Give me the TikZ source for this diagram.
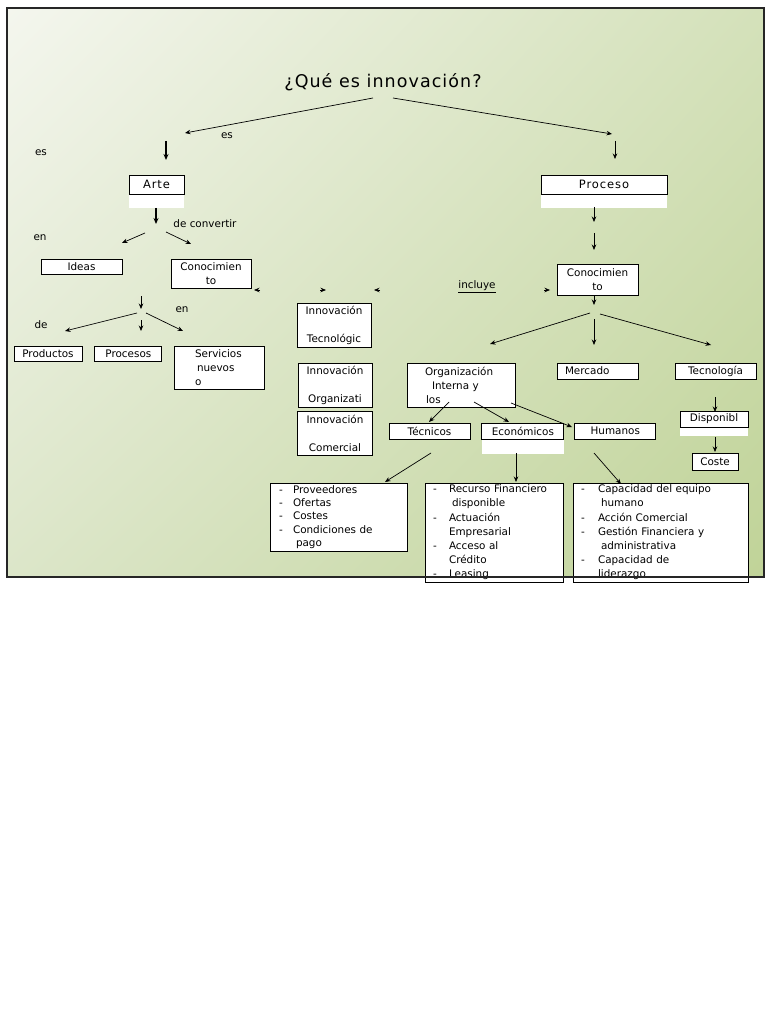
\documentclass[tikz,border=0pt]{standalone}
\usepackage{fontspec}
\setmainfont{DejaVu Sans}
\newfontfamily\spacedfont[LetterSpace=8]{DejaVu Sans}
\newfontfamily\titlefont[LetterSpace=6]{DejaVu Sans}
\usetikzlibrary{shapes,arrows.meta,positioning,calc,shadings}

\definecolor{bgTL}{RGB}{244,246,238}
\definecolor{bgTR}{RGB}{212,225,186}
\definecolor{bgBL}{RGB}{220,230,201}
\definecolor{bgBR}{RGB}{192,211,152}

\newcommand{\itm}[1]{\makebox[#1pt][l]{-}}
\newcommand{\cont}[1]{\hspace*{#1pt}}

\begin{document}
\begin{tikzpicture}[x=1pt, y=-1pt]

% Define styles
\tikzstyle{box} = [rectangle, draw=black, fill=white, line width=0.9pt, inner sep=0pt, align=center, font=\fontsize{10.4}{14}\selectfont]
\tikzstyle{whitepad} = [rectangle, fill=white, inner sep=0pt]
\tikzstyle{listbox} = [box, align=left]
\tikzstyle{linklabel} = [inner sep=0pt, font=\fontsize{10.4}{12}\selectfont]
\tikzstyle{arrow} = [-{Stealth[length=5.5pt, width=4.5pt]}, line width=0.7pt]
\tikzstyle{bold arrow} = [-{Stealth[length=6pt, width=5pt]}, line width=1.5pt]

% Page and background
\fill [white] (0,0) rectangle (768,1024);
\useasboundingbox (0,0) rectangle (768,1024);
\fill [upper left=bgTL, upper right=bgTR, lower left=bgBL, lower right=bgBR] (7,8) rectangle (764,577);

% Title
\node (title) [anchor=base, font=\fontsize{17.5}{20}\selectfont\titlefont] at (383,88) {¿Qué es innovación?};

% Arte branch
\node (arte) [box, minimum width=55pt, minimum height=19pt, font=\fontsize{11.5}{14}\selectfont\spacedfont] at (156.5,184.5) {Arte};
\node (artepad) [whitepad, below=0pt of arte, minimum width=55pt, minimum height=13pt] {};
\node (ideas) [box, minimum width=81pt, minimum height=15pt] at (81.5,266.5) {Ideas};
\node (conocA) [box, minimum width=80pt, minimum height=29pt] at (211,273.5) {Conocimien\\to};
\node (productos) [box, minimum width=68pt, minimum height=15pt] at (48,353.5) {Productos};
\node (procesos) [box, right=12pt of productos, minimum width=67pt, minimum height=15pt] {Procesos};
\node (servicios) [listbox, minimum width=90pt, minimum height=43pt, text width=48pt] at (219,367.5) {Servicios\\\cont{2}nuevos\\o};

% Innovation types
\node (innTec) [box, minimum width=74pt, minimum height=44pt] at (334,325) {Innovación\\[14pt]Tecnológic};
\node (innOrg) [box, minimum width=74pt, minimum height=44pt] at (335,385) {Innovación\\[14pt]Organizati};
\node (innCom) [box, below=4pt of innOrg, minimum width=75pt, minimum height=44pt] {Innovación\\[14pt]Comercial};

% Proceso branch
\node (proceso) [box, minimum width=126pt, minimum height=19pt, font=\fontsize{11.5}{14}\selectfont\spacedfont] at (604,184.5) {Proceso};
\node (procesopad) [whitepad, below=0pt of proceso, minimum width=126pt, minimum height=13pt] {};
\node (conocB) [box, minimum width=81pt, minimum height=31pt] at (597.5,279.5) {Conocimien\\to};
\node (organizacion) [listbox, minimum width=108pt, minimum height=44pt, text width=72pt] at (461,385) {Organización\\\cont{7}Interna y\\\cont{1}los};
\node (mercado) [listbox, minimum width=81pt, minimum height=16pt, text width=65pt] at (597.5,371) {Mercado};
\node (tecnologia) [box, minimum width=81pt, minimum height=16pt] at (715.5,371) {Tecnología};
\node (tecnicos) [box, minimum width=81pt, minimum height=16pt] at (429.5,431) {Técnicos};
\node (economicos) [box, right=11pt of tecnicos, minimum width=82pt, minimum height=16pt] {Económicos};
\node (economicospad) [whitepad, below=0pt of economicos, minimum width=82pt, minimum height=14pt] {};
\node (humanos) [box, right=10pt of economicos, minimum width=81pt, minimum height=16pt] {Humanos};
\node (disponible) [box, minimum width=68pt, minimum height=16pt] at (714,419) {Disponibl};
\node (disponiblepad) [whitepad, below=0pt of disponible, minimum width=68pt, minimum height=8pt] {};
\node (coste) [box, minimum width=46pt, minimum height=17pt] at (715,461.5) {Coste};

% Resource lists
\node (proveedores) [listbox, minimum width=137pt, minimum height=68pt, text width=119pt, font=\fontsize{10.4}{13.3}\selectfont] at (338.5,517) {\itm{14}Proveedores\\\itm{14}Ofertas\\\itm{14}Costes\\\itm{14}Condiciones de\\\cont{17}pago};
\node (recursos) [listbox, minimum width=138pt, minimum height=99pt, text width=122pt, font=\fontsize{10.4}{14.2}\selectfont] at (494,532.5) {\itm{16}Recurso Financiero\\\cont{19}disponible\\\itm{16}Actuación\\\cont{16}Empresarial\\\itm{16}Acceso al\\\cont{16}Crédito\\\itm{16}Leasing};
\node (capacidades) [listbox, minimum width=175pt, minimum height=99pt, text width=159pt, font=\fontsize{10.4}{14.2}\selectfont] at (660.5,532.5) {\itm{17}Capacidad del equipo\\\cont{20}humano\\\itm{17}Acción Comercial\\\itm{17}Gestión Financiera y\\\cont{20}administrativa\\\itm{17}Capacidad de\\\cont{17}liderazgo};

% Link words
\node (esTop) [linklabel] at (227,136) {es};
\node (esLeft) [linklabel] at (41,153) {es};
\node (convertir) [linklabel] at (205,224) {de convertir};
\node (enTop) [linklabel] at (40,238) {en};
\node (deLeft) [linklabel] at (41,325) {de};
\node (enMid) [linklabel] at (182,310) {en};
\node (incluye) [linklabel] at (477,287) {\underline{incluye}};

% Free ends of connectors
\coordinate (titleL) at (373,98);  \coordinate (titleLend) at (185,133);
\coordinate (titleR) at (393,98);  \coordinate (titleRend) at (612,134);
\coordinate (arteA) at (166,141);  \coordinate (arteB) at (166,160);
\coordinate (arteD) at (156,224);
\coordinate (splitL) at (145,233); \coordinate (ideasIn) at (122,243);
\coordinate (splitR) at (166,232); \coordinate (conocIn) at (191,244);
\coordinate (procA) at (615,141);  \coordinate (procB) at (615,159);
\coordinate (procC) at (594,207);  \coordinate (procD) at (594,222);
\coordinate (procE) at (594,233);  \coordinate (procF) at (594,250);
\coordinate (conocBa) at (594,295); \coordinate (conocBb) at (594,305);
\coordinate (brL) at (590,313);    \coordinate (orgIn) at (490,344);
\coordinate (brM) at (594,319);    \coordinate (mercIn) at (594,345);
\coordinate (brR) at (600,314);    \coordinate (tecnoIn) at (711,345);
\coordinate (leftA) at (141,296);  \coordinate (leftB) at (141,309);
\coordinate (leftC) at (141,320);  \coordinate (leftD) at (141,331);
\coordinate (leftE) at (137,313);  \coordinate (prodIn) at (65,331);
\coordinate (leftF) at (146,313);  \coordinate (servIn) at (183,331);
\coordinate (orgA) at (449,402);   \coordinate (tecIn) at (429,422);
\coordinate (orgB) at (474,402);   \coordinate (ecoIn) at (509,422);
\coordinate (orgC) at (511,403);   \coordinate (humIn) at (572,427);
\coordinate (tecA) at (431,453);   \coordinate (provIn) at (385,482);
\coordinate (ecoA) at (516,453);   \coordinate (recIn) at (516,482);
\coordinate (humA) at (594,453);   \coordinate (capIn) at (621,484);
\coordinate (tecnoA) at (715,397); \coordinate (dispIn) at (715,412);
\coordinate (dispA) at (715,437);  \coordinate (costeIn) at (715,452);
\coordinate (tipA) at (260,290);   \coordinate (tipB) at (320,290);
\coordinate (tipC) at (380,290);   \coordinate (tipD) at (544,290);

% Connectors
\draw [arrow] (titleL) -- (titleLend);
\draw [arrow] (titleR) -- (titleRend);
\draw [bold arrow] (arteA) -- (arteB);
\draw [bold arrow] (arteD |- artepad.south) -- (arteD);
\draw [arrow] (splitL) -- (ideasIn);
\draw [arrow] (splitR) -- (conocIn);
\draw [arrow] (procA) -- (procB);
\draw [arrow] (procC) -- (procD);
\draw [arrow] (procE) -- (procF);
\draw [arrow] (conocBa) -- (conocBb);
\draw [arrow] (brL) -- (orgIn);
\draw [arrow] (brM) -- (mercIn);
\draw [arrow] (brR) -- (tecnoIn);
\draw [arrow] (leftA) -- (leftB);
\draw [arrow] (leftC) -- (leftD);
\draw [arrow] (leftE) -- (prodIn);
\draw [arrow] (leftF) -- (servIn);
\draw [arrow] (orgA) -- (tecIn);
\draw [arrow] (orgB) -- (ecoIn);
\draw [arrow] (orgC) -- (humIn);
\draw [arrow] (tecA) -- (provIn);
\draw [arrow] (ecoA) -- (recIn);
\draw [arrow] (humA) -- (capIn);
\draw [arrow] (tecnoA) -- (dispIn);
\draw [arrow] (dispA) -- (costeIn);

% Loose arrow tips
\draw [arrow] (tipA) -- ++(-6,0);
\draw [arrow] (tipB) -- ++(6,0);
\draw [arrow] (tipC) -- ++(-6,0);
\draw [arrow] (tipD) -- ++(6,0);

% Frame
\draw [line width=1.3pt, black!85] (7,8) rectangle (764,577);

\end{tikzpicture}
\end{document}
